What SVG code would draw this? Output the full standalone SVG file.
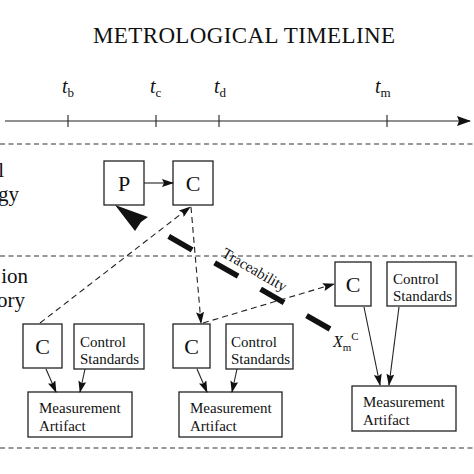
<svg xmlns="http://www.w3.org/2000/svg" width="474" height="474" viewBox="0 0 474 474">
<style>
text{font-family:"Liberation Serif","Times New Roman",serif;fill:#111}
.box{fill:#fff;stroke:#222;stroke-width:1.3}
.sep{stroke:#333;stroke-width:1.2;stroke-dasharray:5 3.5;fill:none}
.thin{stroke:#222;stroke-width:1.1;fill:none}
.dash{stroke:#222;stroke-width:1.1;fill:none;stroke-dasharray:6 4}
.big{font-size:22px}
.lab{font-size:15px}
.side{font-size:21px}
</style>
<defs>
<marker id="ah" markerWidth="12" markerHeight="8" refX="11" refY="4" orient="auto" markerUnits="userSpaceOnUse">
<path d="M0,0 L12,4 L0,8 L2,4 z" fill="#111"/>
</marker>
<marker id="ahl" markerWidth="14" markerHeight="10" refX="13" refY="5" orient="auto" markerUnits="userSpaceOnUse">
<path d="M0,0 L14,5 L0,10 L2,5 z" fill="#111"/>
</marker>
</defs>

<text x="244" y="43" font-size="23" text-anchor="middle" textLength="302" lengthAdjust="spacing">METROLOGICAL  TIMELINE</text>

<g id="timeline">
<line x1="5" y1="121" x2="470" y2="121" class="thin" marker-end="url(#ahl)"/>
<line x1="68" y1="115" x2="68" y2="127" class="thin"/>
<line x1="156" y1="115" x2="156" y2="127" class="thin"/>
<line x1="219" y1="115" x2="219" y2="127" class="thin"/>
<line x1="387" y1="115" x2="387" y2="127" class="thin"/>
<text x="62" y="93" font-size="20"><tspan font-style="italic">t</tspan><tspan font-size="13" dy="4">b</tspan></text>
<text x="150" y="93" font-size="20"><tspan font-style="italic">t</tspan><tspan font-size="13" dy="4">c</tspan></text>
<text x="214" y="93" font-size="20"><tspan font-style="italic">t</tspan><tspan font-size="13" dy="4">d</tspan></text>
<text x="375" y="93" font-size="20"><tspan font-style="italic">t</tspan><tspan font-size="13" dy="4">m</tspan></text>
</g>

<g id="separators">
<line x1="0" y1="144" x2="474" y2="144" class="sep"/>
<line x1="0" y1="256" x2="474" y2="256" class="sep"/>
<line x1="0" y1="448" x2="474" y2="448" class="sep"/>
</g>

<g id="side-labels">
<text x="4" y="177" class="side" text-anchor="end">l</text>
<text x="19" y="201" class="side" text-anchor="end">gy</text>
<text x="28" y="283" class="side" text-anchor="end">ion</text>
<text x="25" y="307" class="side" text-anchor="end">ory</text>
</g>

<g id="node-P"><rect x="104" y="161" width="40" height="44" class="box"/><text x="124" y="191" class="big" text-anchor="middle">P</text></g>
<g id="node-C-top"><rect x="173" y="161" width="40" height="44" class="box"/><text x="193" y="191" class="big" text-anchor="middle">C</text></g>

<g id="node-C-left"><rect x="23" y="324" width="39" height="44" class="box"/><text x="42.5" y="354" class="big" text-anchor="middle">C</text></g>
<g id="node-CS-left"><rect x="74" y="324" width="70" height="45" class="box"/><text x="80" y="347" class="lab">Control</text><text x="80" y="364" class="lab">Standards</text></g>
<g id="node-MA-left"><rect x="28" y="392" width="104" height="45" class="box"/><text x="39" y="413" class="lab">Measurement</text><text x="39" y="431" class="lab">Artifact</text></g>

<g id="node-C-mid"><rect x="173" y="324" width="37" height="44" class="box"/><text x="191.5" y="354" class="big" text-anchor="middle">C</text></g>
<g id="node-CS-mid"><rect x="226" y="324" width="67" height="45" class="box"/><text x="231" y="347" class="lab">Control</text><text x="231" y="364" class="lab">Standards</text></g>
<g id="node-MA-mid"><rect x="179" y="392" width="103" height="45" class="box"/><text x="190" y="413" class="lab">Measurement</text><text x="190" y="431" class="lab">Artifact</text></g>

<g id="node-C-right"><rect x="335" y="262" width="36" height="44" class="box"/><text x="353" y="292" class="big" text-anchor="middle">C</text></g>
<g id="node-CS-right"><rect x="387" y="262" width="69" height="44" class="box"/><text x="393" y="284" class="lab">Control</text><text x="393" y="301" class="lab">Standards</text></g>
<g id="node-MA-right"><rect x="352" y="386" width="104" height="45" class="box"/><text x="363" y="407" class="lab">Measurement</text><text x="363" y="425" class="lab">Artifact</text></g>

<g id="connectors">
<line x1="144" y1="183" x2="173" y2="183" class="thin" marker-end="url(#ah)"/>
<line x1="40" y1="323" x2="190" y2="207" class="dash" marker-end="url(#ah)"/>
<line x1="191" y1="207" x2="201" y2="323" class="dash" marker-end="url(#ah)"/>
<line x1="203" y1="323" x2="334" y2="284" class="dash" marker-end="url(#ah)"/>
<line x1="46" y1="369" x2="56" y2="392" class="thin" marker-end="url(#ah)"/>
<line x1="85" y1="369" x2="80" y2="392" class="thin" marker-end="url(#ah)"/>
<line x1="197" y1="369" x2="207" y2="392" class="thin" marker-end="url(#ah)"/>
<line x1="237" y1="369" x2="232" y2="392" class="thin" marker-end="url(#ah)"/>
<line x1="364" y1="307" x2="380" y2="385" class="thin" marker-end="url(#ah)"/>
<line x1="399" y1="307" x2="389" y2="385" class="thin" marker-end="url(#ah)"/>
<line x1="330" y1="329" x2="167" y2="235.4" stroke="#111" stroke-width="5.5" stroke-dasharray="27 26" fill="none"/>
<path d="M115,205 L148,217 L141,222 L135,231 z" fill="#111"/>
</g>

<text x="221" y="256" font-size="15" transform="rotate(30 221 256)">Traceability</text>
<text x="333" y="347" font-size="16"><tspan font-style="italic">X</tspan><tspan font-size="11" dy="4">m</tspan><tspan font-size="11" dy="-11">C</tspan></text>
</svg>
